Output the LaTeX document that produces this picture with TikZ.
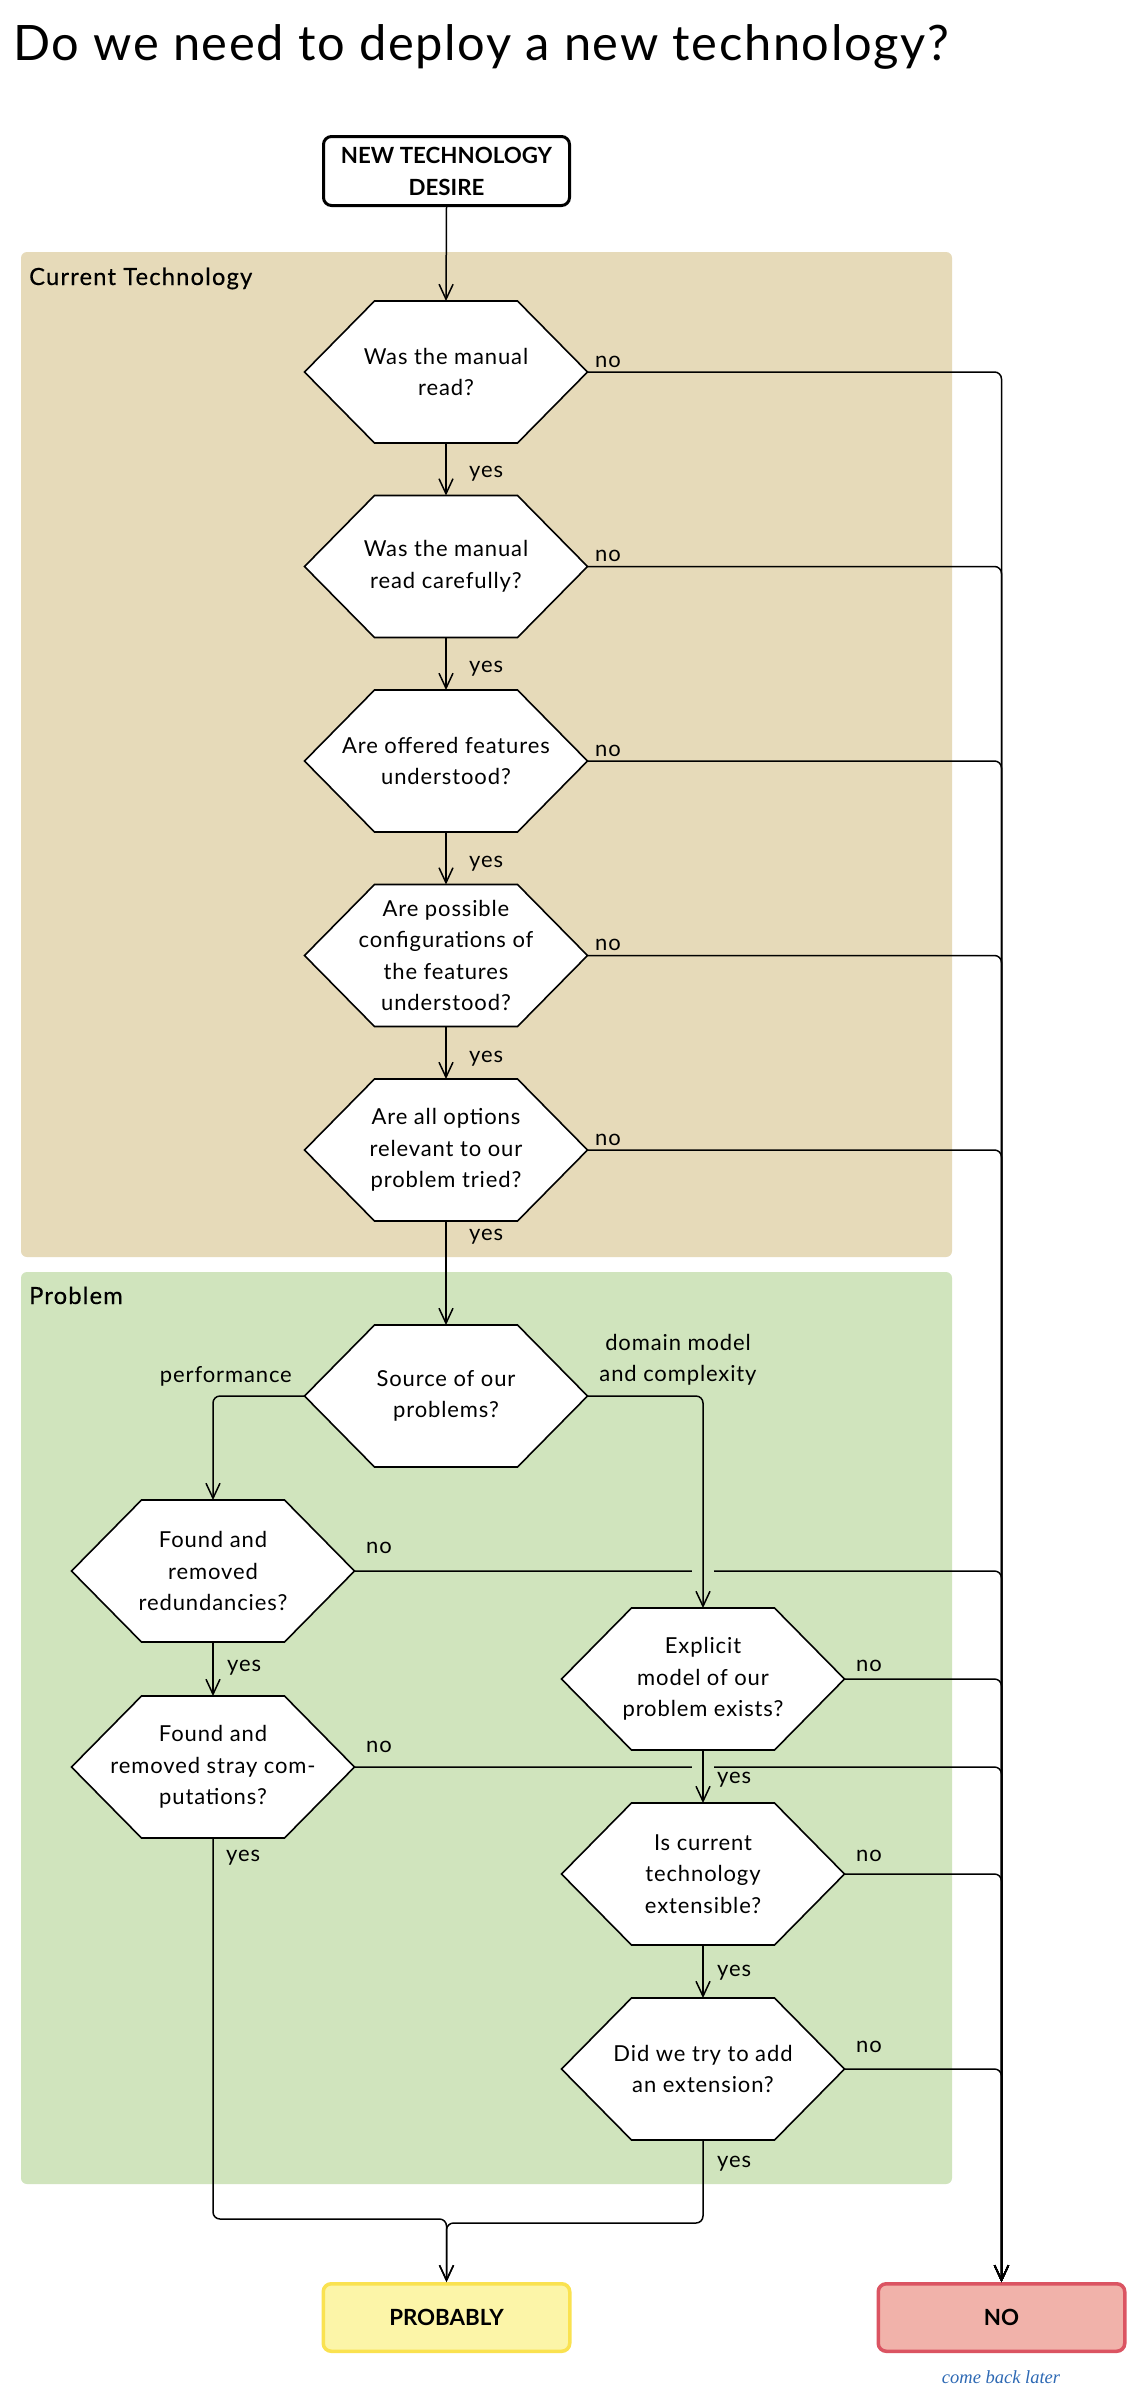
\documentclass[tikz,border=0pt]{standalone}
\usepackage{fontspec}
\setmainfont{Lato}
\newfontfamily\spfont{Lato}[LetterSpace=4]
\newfontfamily\titlefont{Lato}[LetterSpace=3.4]
\newfontfamily\medfont{Lato}[FakeBold=0.5,LetterSpace=5]
\newfontfamily\cblfont{Liberation Serif}
\usetikzlibrary{arrows.meta}
\definecolor{tanbg}{RGB}{230,218,185}
\definecolor{greenbg}{RGB}{208,228,189}
\definecolor{probfill}{RGB}{252,245,168}
\definecolor{probdraw}{RGB}{250,226,80}
\definecolor{nofill}{RGB}{241,178,170}
\definecolor{nodraw}{RGB}{219,84,98}
\definecolor{cblue}{RGB}{45,105,180}
\newcommand\hexfont{\spfont\fontsize{22}{31.5}\selectfont}
\newcommand\boxfont{\fontsize{22.3}{32}\selectfont\bfseries}
\newcommand\hexat[4]{%
  \draw[hexshape] (#2,#3) ++(-141.5,0) -- ++(70,-71) -- ++(143,0) -- ++(70,71) -- ++(-70,71) -- ++(-143,0) -- cycle;
  \node[hexbox] (#1) at (#2,#3) {#4};
}
\begin{document}
\begin{tikzpicture}[x=1pt,y=-1pt,
  conn/.style={line width=1.5pt, rounded corners=7pt, -{Straight Barb[length=15pt,width=14pt]}},
  hexshape/.style={draw, line width=1.6pt, fill=white, line join=miter},
  hexbox/.style={draw=none, minimum width=283pt, minimum height=142pt, inner sep=0pt, outer sep=0pt, align=center, font=\hexfont},
  lbl/.style={font=\hexfont, inner sep=0pt},
  seclbl/.style={font=\medfont\fontsize{23.7}{28}\selectfont, inner sep=0pt, anchor=base west},
  startbox/.style={draw, line width=3pt, rounded corners=8pt, minimum width=246pt, minimum height=69pt, inner sep=0pt, align=center, font=\boxfont},
  endbox/.style={line width=3.5pt, rounded corners=8pt, minimum width=246.5pt, minimum height=67.5pt, inner sep=0pt, font=\boxfont},
  bgpanel/.style={rounded corners=6pt},
  gapline/.style={draw=greenbg, line width=5pt}
]
\useasboundingbox (0,0) rectangle (1129,2393);
\fill[white] (0,0) rectangle (1129,2393);

% title
\node[anchor=base west, inner sep=0pt, font=\titlefont\fontsize{48.8}{56}\selectfont] (title) at (13,60) {Do we need to deploy a new technology?};

% panels
\fill[tanbg, bgpanel] (21,252) rectangle (952,1257);
\fill[greenbg, bgpanel] (21,1272) rectangle (952,2184);
\node[seclbl] (ctlabel) at (29,285) {Current Technology};
\node[seclbl] (prlabel) at (29,1304) {Problem};

% start and end boxes
\node[startbox] (start) at (446.5,171) {NEW TECHNOLOGY\\DESIRE};
\node[endbox, draw=probdraw, fill=probfill] (prob) at (446.5,2317.5) {PROBABLY};
\node[endbox, draw=nodraw, fill=nofill] (no) at (1001.5,2317.5) {NO};
\node[anchor=base, inner sep=0pt, text=cblue, font=\cblfont\itshape\fontsize{18.5}{22}\selectfont] (later) at (1001,2383) {come back later};

% decision hexagons
\hexat{h1}{446}{372}{Was the manual\\read?}
\hexat{h2}{446}{566.5}{Was the manual\\read carefully?}
\hexat{h3}{446}{761}{Are offered features\\understood?}
\hexat{h4}{446}{955.5}{Are possible\\configurations of\\the features\\understood?}
\hexat{h5}{446}{1150}{Are all options\\relevant to our\\problem tried?}
\hexat{src}{446}{1396}{Source of our\\problems?}
\hexat{red}{213}{1571}{Found and\\removed\\redundancies?}
\hexat{stray}{213}{1767}{Found and\\removed stray com-\\putations?}
\hexat{expl}{703}{1679}{Explicit\\model of our\\problem exists?}
\hexat{ext}{703}{1874}{Is current\\technology\\extensible?}
\hexat{did}{703}{2069}{Did we try to add\\an extension?}

% main column
\draw[conn] (start.south) -- (h1.north);
\draw[conn] (h1.south) -- (h2.north);
\draw[conn] (h2.south) -- (h3.north);
\draw[conn] (h3.south) -- (h4.north);
\draw[conn] (h4.south) -- (h5.north);
\draw[conn] (h5.south) -- (src.north);

% no branches
\foreach \n in {h1,h2,h3,h4,h5,red,stray,expl,ext,did}
  \draw[conn] (\n.east) -| (no.north);

% gaps where the no-lines cross the right column
\coordinate (x1) at (red.east -| expl.north);
\coordinate (x2) at (stray.east -| expl.north);
\draw[gapline] ([xshift=-11pt]x1) -- ([xshift=11pt]x1);
\draw[gapline] ([xshift=-11pt]x2) -- ([xshift=11pt]x2);

% problem branches
\draw[conn] (src.west) -| (red.north);
\draw[conn] (src.east) -| (expl.north);
\draw[conn] (red.south) -- (stray.north);
\draw[conn] (expl.south) -- (ext.north);
\draw[conn] (ext.south) -- (did.north);
\draw[conn] (stray.south) |- ([yshift=63pt]prob.north) -- (prob.north);
\draw[conn] (did.south) |- ([yshift=59pt]prob.north) -- (prob.north);

% labels
\node[lbl, anchor=base west] (n1) at (595,367) {no};
\node[lbl, anchor=base west] (n2) at (595,561) {no};
\node[lbl, anchor=base west] (n3) at (595,756) {no};
\node[lbl, anchor=base west] (n4) at (595,950) {no};
\node[lbl, anchor=base west] (n5) at (595,1145) {no};
\node[lbl, anchor=base west] (n6) at (366,1553) {no};
\node[lbl, anchor=base west] (n7) at (366,1752) {no};
\node[lbl, anchor=base west] (n8) at (856,1671) {no};
\node[lbl, anchor=base west] (n9) at (856,1861) {no};
\node[lbl, anchor=base west] (n10) at (856,2052) {no};

\node[lbl, anchor=base west] (y1) at (469,477) {yes};
\node[lbl, anchor=base west] (y2) at (469,672) {yes};
\node[lbl, anchor=base west] (y3) at (469,867) {yes};
\node[lbl, anchor=base west] (y4) at (469,1062) {yes};
\node[lbl, anchor=base west] (y5) at (469,1240) {yes};
\node[lbl, anchor=base west] (y6) at (227,1671) {yes};
\node[lbl, anchor=base west] (y7) at (226,1861) {yes};
\node[lbl, anchor=base west] (y8) at (717,1783) {yes};
\node[lbl, anchor=base west] (y9) at (717,1976) {yes};
\node[lbl, anchor=base west] (y10) at (717,2167) {yes};

\node[lbl, anchor=base east] (perf) at (292,1382) {performance};
\node[lbl, anchor=base] (dm1) at (678,1350) {domain model};
\node[lbl, anchor=base] (dm2) at (678,1381) {and complexity};
\end{tikzpicture}
\end{document}
